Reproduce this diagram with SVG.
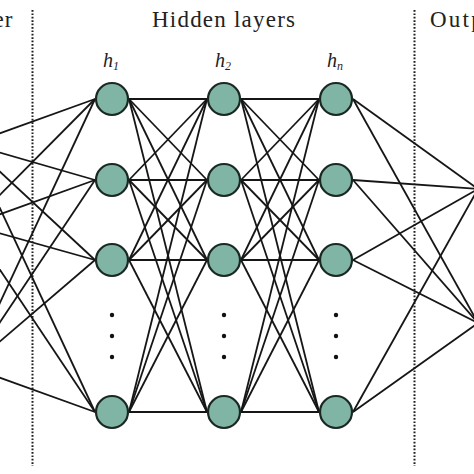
<svg xmlns="http://www.w3.org/2000/svg" width="474" height="474" viewBox="0 0 474 474">
<style>
.c{stroke:#161616;stroke-width:1.8;fill:none}
.n{fill:#80b4a4;stroke:#1a2824;stroke-width:2.2}
.d{fill:#111}
.sep{stroke:#1e1e1e;stroke-width:2;stroke-dasharray:1.7 1.7}
.t{font-family:"Liberation Serif","DejaVu Serif",serif;fill:#222}
.h{font-family:"Liberation Serif","DejaVu Serif",serif;font-style:italic;fill:#1e1e1e;font-size:20px}
</style>
<rect width="474" height="474" fill="#fff"/>
<g id="separators">
<line class="sep" x1="32.5" y1="10" x2="32.5" y2="466"/>
<line class="sep" x1="414.5" y1="10" x2="414.5" y2="466"/>
</g>
<g id="titles">
<text class="t" x="-99.5" y="27" font-size="23" textLength="112" lengthAdjust="spacing">Input layer</text>
<text class="t" x="152" y="27" font-size="23" textLength="143" lengthAdjust="spacing">Hidden layers</text>
<text class="t" x="430" y="27" font-size="23" textLength="140" lengthAdjust="spacing">Output layer</text>
</g>
<g id="connectors">
<line class="c" x1="-30" y1="144" x2="95" y2="99"/><line class="c" x1="-30" y1="144" x2="95" y2="180"/><line class="c" x1="-30" y1="144" x2="95" y2="260"/><line class="c" x1="-30" y1="144" x2="95" y2="412"/>
<line class="c" x1="-30" y1="225" x2="95" y2="99"/><line class="c" x1="-30" y1="225" x2="95" y2="180"/><line class="c" x1="-30" y1="225" x2="95" y2="260"/><line class="c" x1="-30" y1="225" x2="95" y2="412"/>
<line class="c" x1="-30" y1="367" x2="95" y2="99"/><line class="c" x1="-30" y1="367" x2="95" y2="180"/><line class="c" x1="-30" y1="367" x2="95" y2="260"/><line class="c" x1="-30" y1="367" x2="95" y2="412"/>
<line class="c" x1="129" y1="99" x2="207" y2="99"/><line class="c" x1="129" y1="99" x2="207" y2="180"/><line class="c" x1="129" y1="99" x2="207" y2="260"/><line class="c" x1="129" y1="99" x2="207" y2="412"/>
<line class="c" x1="129" y1="180" x2="207" y2="99"/><line class="c" x1="129" y1="180" x2="207" y2="180"/><line class="c" x1="129" y1="180" x2="207" y2="260"/><line class="c" x1="129" y1="180" x2="207" y2="412"/>
<line class="c" x1="129" y1="260" x2="207" y2="99"/><line class="c" x1="129" y1="260" x2="207" y2="180"/><line class="c" x1="129" y1="260" x2="207" y2="260"/><line class="c" x1="129" y1="260" x2="207" y2="412"/>
<line class="c" x1="129" y1="412" x2="207" y2="99"/><line class="c" x1="129" y1="412" x2="207" y2="180"/><line class="c" x1="129" y1="412" x2="207" y2="260"/><line class="c" x1="129" y1="412" x2="207" y2="412"/>
<line class="c" x1="241" y1="99" x2="319" y2="99"/><line class="c" x1="241" y1="99" x2="319" y2="180"/><line class="c" x1="241" y1="99" x2="319" y2="260"/><line class="c" x1="241" y1="99" x2="319" y2="412"/>
<line class="c" x1="241" y1="180" x2="319" y2="99"/><line class="c" x1="241" y1="180" x2="319" y2="180"/><line class="c" x1="241" y1="180" x2="319" y2="260"/><line class="c" x1="241" y1="180" x2="319" y2="412"/>
<line class="c" x1="241" y1="260" x2="319" y2="99"/><line class="c" x1="241" y1="260" x2="319" y2="180"/><line class="c" x1="241" y1="260" x2="319" y2="260"/><line class="c" x1="241" y1="260" x2="319" y2="412"/>
<line class="c" x1="241" y1="412" x2="319" y2="99"/><line class="c" x1="241" y1="412" x2="319" y2="180"/><line class="c" x1="241" y1="412" x2="319" y2="260"/><line class="c" x1="241" y1="412" x2="319" y2="412"/>
<line class="c" x1="353" y1="99" x2="478" y2="189"/><line class="c" x1="353" y1="99" x2="478" y2="323"/>
<line class="c" x1="353" y1="180" x2="478" y2="189"/><line class="c" x1="353" y1="180" x2="478" y2="323"/>
<line class="c" x1="353" y1="260" x2="478" y2="189"/><line class="c" x1="353" y1="260" x2="478" y2="323"/>
<line class="c" x1="353" y1="412" x2="478" y2="189"/><line class="c" x1="353" y1="412" x2="478" y2="323"/>
</g>
<g id="h1">
<text class="h" x="111" y="67" text-anchor="middle">h<tspan font-size="12" dy="3">1</tspan></text>
<circle class="n" cx="112" cy="99" r="16"/>
<circle class="n" cx="112" cy="180" r="16"/>
<circle class="n" cx="112" cy="260" r="16"/>
<circle class="d" cx="112" cy="315" r="2.2"/><circle class="d" cx="112" cy="336" r="2.2"/><circle class="d" cx="112" cy="357" r="2.2"/>
<circle class="n" cx="112" cy="412" r="16"/>
</g>
<g id="h2">
<text class="h" x="223" y="67" text-anchor="middle">h<tspan font-size="12" dy="3">2</tspan></text>
<circle class="n" cx="224" cy="99" r="16"/>
<circle class="n" cx="224" cy="180" r="16"/>
<circle class="n" cx="224" cy="260" r="16"/>
<circle class="d" cx="224" cy="315" r="2.2"/><circle class="d" cx="224" cy="336" r="2.2"/><circle class="d" cx="224" cy="357" r="2.2"/>
<circle class="n" cx="224" cy="412" r="16"/>
</g>
<g id="hn">
<text class="h" x="335" y="67" text-anchor="middle">h<tspan font-size="12" dy="3">n</tspan></text>
<circle class="n" cx="336" cy="99" r="16"/>
<circle class="n" cx="336" cy="180" r="16"/>
<circle class="n" cx="336" cy="260" r="16"/>
<circle class="d" cx="336" cy="315" r="2.2"/><circle class="d" cx="336" cy="336" r="2.2"/><circle class="d" cx="336" cy="357" r="2.2"/>
<circle class="n" cx="336" cy="412" r="16"/>
</g>
</svg>
